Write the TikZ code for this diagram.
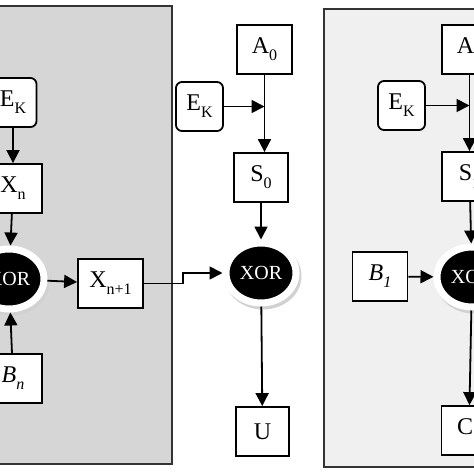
\documentclass[tikz,border=0pt]{standalone}
\usepackage{fontspec}
\setmainfont{Liberation Serif}
\usetikzlibrary{arrows.meta,shapes.geometric}
\newcommand\sbs[1]{\raisebox{-0.3em}{\fontsize{16}{16}\selectfont #1}}
\begin{document}
\begin{tikzpicture}[x=1pt,y=-1pt,
  lw/.style={line width=1.8pt},
  box/.style={draw,lw,fill=white,minimum height=49pt,inner sep=0pt,font=\fontsize{24}{24}\selectfont},
  keybox/.style={box,rounded corners=6pt,minimum width=47pt},
  xor/.style={ellipse,fill=black,draw=white,line width=7pt,minimum width=70pt,minimum height=60pt,inner sep=0pt,
     text=white,font=\fontsize{20}{20}\selectfont,outer sep=3.5pt,
     preaction={draw=black!18,fill=black!18,line width=7pt,transform canvas={shift={(2pt,-3pt)}}}},
  arr/.style={lw,-{Triangle[length=13pt,width=13pt]}}]
\useasboundingbox (0,0) rectangle (474,474);
\clip (0,0) rectangle (474,474);
% panels
\fill[black!16,draw=black!80,lw] (-10,6) rectangle (172,464);
\fill[black!6,draw=black!80,lw] (324,9) rectangle (490,467);
% left panel nodes
\node[keybox] (EKl) at (13,102.5) {E\sbs{K}};
\node[box,minimum width=58pt] (Xn) at (13,188.5) {X\sbs{n}};
\node[xor] (XORl) at (9,279) {XOR};
\node[box,minimum width=58pt] (Bn) at (13,378.5) {\textit{B}\sbs{\textit{n}}};
\node[box,minimum width=65pt] (Xn1) at (110.5,283.5) {X\sbs{n+1}};
% middle
\node[box,minimum width=55pt] (A0) at (264.5,49.5) {A\sbs{0}};
\node[keybox] (EKm) at (199.5,106.5) {E\sbs{K}};
\node[box,minimum width=54pt] (S0) at (261,177.5) {S\sbs{0}};
\node[xor] (XORm) at (261,273) {XOR};
\node[box,minimum width=53pt] (U) at (262.5,431.5) {U};
% right
\node[box,minimum width=55pt] (Ar) at (469.5,49.5) {A\sbs{1}};
\node[keybox] (EKr) at (401.5,105.5) {E\sbs{K}};
\node[box,minimum width=55pt] (Sr) at (469.5,176.5) {S\sbs{1}};
\node[box,minimum width=55pt] (B1) at (380,276.5) {\textit{B}\sbs{\textit{1}}};
\node[xor] (XORr) at (472,277) {XOR};
\node[box,minimum width=55pt] (C) at (469,430.5) {C\sbs{1}};
\coordinate (j1) at (183,0);
% left connectors
\draw[arr] (EKl) -- (Xn);
\draw[arr] (Xn) -- (XORl);
\draw[arr] (Bn) -- (XORl);
\draw[arr] (XORl) -- (Xn1);
\draw[arr] (Xn1.east) -- (Xn1.east -| j1) -- (j1 |- XORm.west) -- (XORm.west);
% middle connectors
\draw[arr] (A0.south) -- (A0.south |- S0.north);
\draw[arr] (EKm.east) -- (EKm.east -| A0.south);
\draw[arr] (S0) -- (XORm);
\draw[arr] (XORm) -- (U);
% right connectors
\draw[arr] (Ar.south) -- (Ar.south |- Sr.north);
\draw[arr] (EKr.east) -- (EKr.east -| Ar.south);
\draw[arr] (Sr) -- (XORr);
\draw[arr] (B1) -- (XORr);
\draw[arr] (XORr) -- (C);
\end{tikzpicture}
\end{document}
